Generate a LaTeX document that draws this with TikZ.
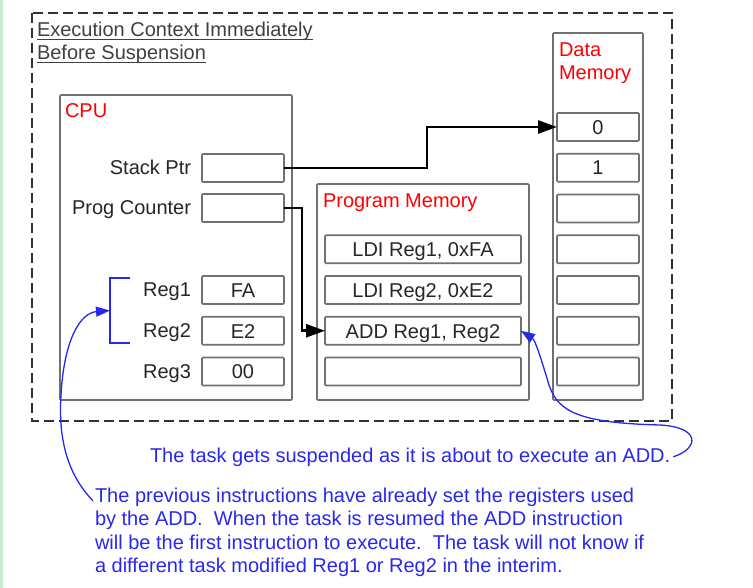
\documentclass[tikz,border=0pt]{standalone}
\usepackage{fontspec}
\setmainfont{Liberation Sans}
\usetikzlibrary{arrows.meta,calc}
\definecolor{boxgray}{RGB}{112,112,112}
\definecolor{txt}{RGB}{38,38,38}
\definecolor{ttl}{RGB}{64,64,64}
\definecolor{lblred}{RGB}{255,0,0}
\definecolor{noteblue}{RGB}{40,40,235}
\definecolor{strip}{RGB}{200,236,210}
\definecolor{dashc}{RGB}{50,50,50}
\begin{document}
\begin{tikzpicture}[x=1pt,y=-1pt,
  every node/.style={font=\fontsize{20}{24}\selectfont, inner sep=0pt, outer sep=0pt},
  panel/.style={draw=boxgray, line width=1.6pt, fill=white, rounded corners=1pt},
  cell/.style={draw=boxgray, line width=1.6pt, fill=white, rounded corners=1pt,
    minimum height=28pt, text height=14.5pt, text depth=0pt, text=txt},
  lbl/.style={text=txt},
  redlbl/.style={text=lblred},
  ttltxt/.style={text=ttl},
  note/.style={text=noteblue},
  ptr/.style={line width=2.6pt, -{Triangle[length=19pt,width=13pt]}},
  bluearrow/.style={draw=noteblue, line width=1.3pt, -{Triangle[length=14pt,width=10pt]}},
  bracketline/.style={draw=noteblue, line width=1.5pt},
  outerbox/.style={draw=dashc, line width=1.9pt, dash pattern=on 10pt off 5pt}
]
\useasboundingbox (0,0) rectangle (753,588);
\fill[strip] (0,0) rectangle (3,588);

% outer dashed box
\draw[outerbox] (32,13) rectangle (672,421);

% title
\node[ttltxt, anchor=base west] (t1) at (37,37) {Execution Context Immediately};
\node[ttltxt, anchor=base west] (t2) at (37,60) {Before Suspension};
\draw[ttl, line width=1.2pt] ([yshift=-2.8pt]t1.base west) -- ([yshift=-2.8pt]t1.base east);
\draw[ttl, line width=1.2pt] ([yshift=-2.8pt]t2.base west) -- ([yshift=-2.8pt]t2.base east);

% panels
\node[panel, minimum width=232pt, minimum height=305pt] (cpu) at (176,247.5) {};
\node[panel, minimum width=212pt, minimum height=216pt] (pm) at (423,292) {};
\node[panel, minimum width=90pt, minimum height=367pt] (dm) at (598,216.5) {};

\node[redlbl, anchor=base west] (cpul) at (65,118) {CPU};
\node[redlbl, anchor=base west] (pml) at (323,208) {Program Memory};
\node[redlbl, anchor=base west] (dml1) at (559,57) {Data};
\node[redlbl, anchor=base west] (dml2) at (559,80) {Memory};

% CPU registers
\node[cell, minimum width=82pt] (sp) at (243,168) {};
\node[cell, minimum width=82pt] (pc) at (243,208) {};
\node[cell, minimum width=82pt] (r1) at (243,290) {FA};
\node[cell, minimum width=82pt] (r2) at (243,330.75) {E2};
\node[cell, minimum width=82pt] (r3) at (243,371.5) {00};

\node[lbl, anchor=base east] (lsp) at (191,175) {Stack Ptr};
\node[lbl, anchor=base east] (lpc) at (191,215) {Prog Counter};
\node[lbl, anchor=base east] (lr1) at (191,296.5) {Reg1};
\node[lbl, anchor=base east] (lr2) at (191,337.25) {Reg2};
\node[lbl, anchor=base east] (lr3) at (191,378) {Reg3};

% program memory
\node[cell, minimum width=196pt] (i1) at (423,249.25) {LDI Reg1, 0xFA};
\node[cell, minimum width=196pt] (i2) at (423,290) {LDI Reg2, 0xE2};
\node[cell, minimum width=196pt] (add) at (423,330.75) {ADD Reg1, Reg2};
\node[cell, minimum width=196pt] (i4) at (423,371.5) {};

% data memory
\node[cell, minimum width=82pt] (d0) at (598,127) {0};
\node[cell, minimum width=82pt] (d1) at (598,167.75) {1};
\node[cell, minimum width=82pt] (d2) at (598,208.5) {};
\node[cell, minimum width=82pt] (d3) at (598,249.25) {};
\node[cell, minimum width=82pt] (d4) at (598,290) {};
\node[cell, minimum width=82pt] (d5) at (598,330.75) {};
\node[cell, minimum width=82pt] (d6) at (598,371.5) {};

% pointers
\coordinate (spbend) at (427,168);
\draw[ptr] (sp.east) -- (spbend) |- (d0.west);
\coordinate (pcbend) at (302,208);
\draw[ptr] (pc.east) -- (pcbend) |- (add.west);

% bracket
\draw[bracketline] (130,278) -- (110,278) -- (110,343) -- (130,343);
\coordinate (brk) at (110,310.5);

% notes
\node[note, anchor=base west] (n1) at (150,462) {The task gets suspended as it is about to execute an ADD.};
\node[note, anchor=base west] (p1) at (95,502) {The previous instructions have already set the registers used};
\node[note, anchor=base west] (p2) at (95,525.5) {by the ADD.\ \ When the task is resumed the ADD instruction};
\node[note, anchor=base west] (p3) at (95,549) {will be the first instruction to execute.\ \ The task will not know if};
\node[note, anchor=base west] (p4) at (95,572.5) {a different task modified Reg1 or Reg2 in the interim.};

\draw[bluearrow] ([xshift=3pt]n1.east) .. controls (700,448) and (700,427) .. (660,425)
  .. controls (580,423) and (558,412) .. (549,385)
  .. controls (540,355) and (535,340) .. (add.east);
\draw[bluearrow] ([xshift=-2pt,yshift=-4pt]p1.west) .. controls (68,475) and (58,440) .. (61,395)
  .. controls (64,340) and (80,313) .. (brk);
\end{tikzpicture}
\end{document}
